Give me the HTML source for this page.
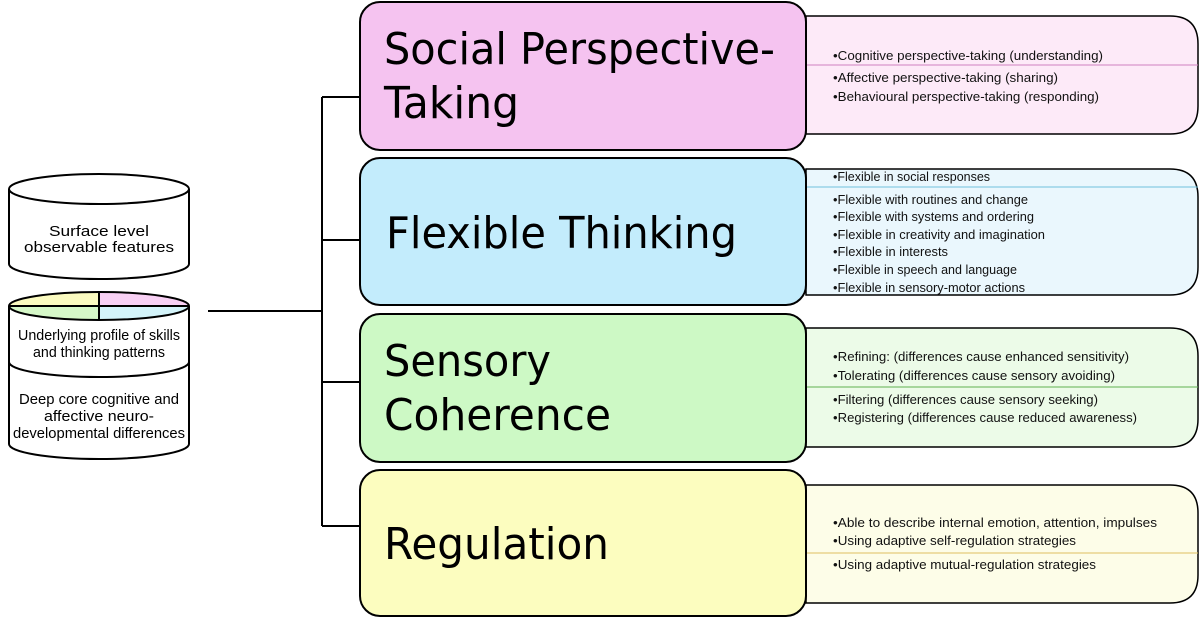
<!DOCTYPE html>
<html><head><meta charset="utf-8"><style>
html,body{margin:0;padding:0;background:#fff;width:1200px;height:619px;overflow:hidden}
svg{display:block}
.t{font-family:"Liberation Sans",sans-serif;fill:#000;font-size:14.5px}
.s{font-family:"Liberation Sans",sans-serif;font-size:13px;fill:#111}
.big{font-family:"DejaVu Sans","Liberation Sans",sans-serif;font-size:44px;fill:#000}
</style></head><body>
<svg width="1200" height="619" viewBox="0 0 1200 619" xmlns="http://www.w3.org/2000/svg">
<g stroke="#000" stroke-width="2" fill="none">
<line x1="208" y1="311" x2="322" y2="311"/>
<line x1="322" y1="97" x2="322" y2="526"/>
<line x1="322" y1="97" x2="360" y2="97"/>
<line x1="322" y1="240" x2="360" y2="240"/>
<line x1="322" y1="382" x2="360" y2="382"/>
<line x1="322" y1="526" x2="360" y2="526"/>
</g>
<g stroke="#000" stroke-width="1.5">
<path d="M806 16 H1170 Q1198 16 1198 44 V106 Q1198 134 1170 134 H806 Z" fill="#fdeaf8"/>
<path d="M806 169 H1170 Q1198 169 1198 197 V267 Q1198 295 1170 295 H806 Z" fill="#eaf7fd"/>
<path d="M806 328 H1170 Q1198 328 1198 356 V419 Q1198 447 1170 447 H806 Z" fill="#ecfbe8"/>
<path d="M806 485 H1170 Q1198 485 1198 513 V575 Q1198 603 1170 603 H806 Z" fill="#fdfde8"/>
</g>
<line x1="806" y1="65" x2="1198" y2="65" stroke="#d080c0" stroke-width="1"/>
<line x1="806" y1="187" x2="1198" y2="187" stroke="#70c0dd" stroke-width="1"/>
<line x1="806" y1="387" x2="1198" y2="387" stroke="#60b050" stroke-width="1"/>
<line x1="806" y1="553" x2="1198" y2="553" stroke="#e0c060" stroke-width="1"/>
<g stroke="#000" stroke-width="2">
<rect x="360" y="2" width="446" height="148" rx="20" fill="#f5c3f0"/>
<rect x="360" y="158" width="446" height="147" rx="20" fill="#c3ecfc"/>
<rect x="360" y="314" width="446" height="148" rx="20" fill="#cdf9c5"/>
<rect x="360" y="470" width="446" height="146" rx="20" fill="#fcfdbf"/>
</g>
<text class="big" x="384" y="64" textLength="391" lengthAdjust="spacingAndGlyphs">Social Perspective-</text>
<text class="big" x="384" y="118" textLength="135" lengthAdjust="spacingAndGlyphs">Taking</text>
<text class="big" x="386" y="248" textLength="351" lengthAdjust="spacingAndGlyphs">Flexible Thinking</text>
<text class="big" x="384" y="376" textLength="167" lengthAdjust="spacingAndGlyphs">Sensory</text>
<text class="big" x="384" y="430" textLength="227" lengthAdjust="spacingAndGlyphs">Coherence</text>
<text class="big" x="384" y="559" textLength="225" lengthAdjust="spacingAndGlyphs">Regulation</text>
<g class="s">
<text x="833" y="60" textLength="270" lengthAdjust="spacingAndGlyphs">•Cognitive perspective-taking (understanding)</text>
<text x="833" y="82" textLength="225" lengthAdjust="spacingAndGlyphs">•Affective perspective-taking (sharing)</text>
<text x="833" y="101" textLength="266" lengthAdjust="spacingAndGlyphs">•Behavioural perspective-taking (responding)</text>
<text x="833" y="181" textLength="157" lengthAdjust="spacingAndGlyphs">•Flexible in social responses</text>
<text x="833" y="204" textLength="195" lengthAdjust="spacingAndGlyphs">•Flexible with routines and change</text>
<text x="833" y="221" textLength="201" lengthAdjust="spacingAndGlyphs">•Flexible with systems and ordering</text>
<text x="833" y="239" textLength="212" lengthAdjust="spacingAndGlyphs">•Flexible in creativity and imagination</text>
<text x="833" y="256" textLength="115" lengthAdjust="spacingAndGlyphs">•Flexible in interests</text>
<text x="833" y="274" textLength="184" lengthAdjust="spacingAndGlyphs">•Flexible in speech and language</text>
<text x="833" y="292" textLength="192" lengthAdjust="spacingAndGlyphs">•Flexible in sensory-motor actions</text>
<text x="833" y="361" textLength="296" lengthAdjust="spacingAndGlyphs">•Refining: (differences cause enhanced sensitivity)</text>
<text x="833" y="380" textLength="282" lengthAdjust="spacingAndGlyphs">•Tolerating (differences cause sensory avoiding)</text>
<text x="833" y="404" textLength="265" lengthAdjust="spacingAndGlyphs">•Filtering (differences cause sensory seeking)</text>
<text x="833" y="422" textLength="304" lengthAdjust="spacingAndGlyphs">•Registering (differences cause reduced awareness)</text>
<text x="833" y="527" textLength="324" lengthAdjust="spacingAndGlyphs">•Able to describe internal emotion, attention, impulses</text>
<text x="833" y="545" textLength="243" lengthAdjust="spacingAndGlyphs">•Using adaptive self-regulation strategies</text>
<text x="833" y="569" textLength="263" lengthAdjust="spacingAndGlyphs">•Using adaptive mutual-regulation strategies</text>
</g>
<g stroke="#000" stroke-width="2" fill="#fff">
<path d="M9 189 V264 A90 15 0 0 0 189 264 V189"/>
<ellipse cx="99" cy="189" rx="90" ry="15"/>
</g>
<g stroke="#000" stroke-width="2">
<path d="M9 306 V444 A90 15 0 0 0 189 444 V306" fill="#fff"/>
<path d="M9 362 A90 15 0 0 0 189 362" fill="none"/>
<path d="M9 306 A90 14 0 0 1 99 292 V306 Z" fill="#fbfbc0" stroke="none"/>
<path d="M99 292 A90 14 0 0 1 189 306 H99 Z" fill="#f8d0f4" stroke="none"/>
<path d="M9 306 A90 14 0 0 0 99 320 V306 Z" fill="#d6f8c8" stroke="none"/>
<path d="M99 320 A90 14 0 0 0 189 306 H99 Z" fill="#d4f4fa" stroke="none"/>
<ellipse cx="99" cy="306" rx="90" ry="14" fill="none"/>
<line x1="9" y1="306" x2="189" y2="306"/>
<line x1="99" y1="292" x2="99" y2="320"/>
</g>
<g class="t" text-anchor="middle">
<text x="99" y="236" textLength="100" lengthAdjust="spacingAndGlyphs">Surface level</text>
<text x="99" y="252" textLength="150" lengthAdjust="spacingAndGlyphs">observable features</text>
<text x="99" y="340" textLength="162" lengthAdjust="spacingAndGlyphs">Underlying profile of skills</text>
<text x="99" y="357" textLength="132" lengthAdjust="spacingAndGlyphs">and thinking patterns</text>
<text x="99" y="404" textLength="160" lengthAdjust="spacingAndGlyphs">Deep core cognitive and</text>
<text x="99" y="421" textLength="110" lengthAdjust="spacingAndGlyphs">affective neuro-</text>
<text x="99" y="438" textLength="172" lengthAdjust="spacingAndGlyphs">developmental differences</text>
</g>
</svg>
</body></html>
